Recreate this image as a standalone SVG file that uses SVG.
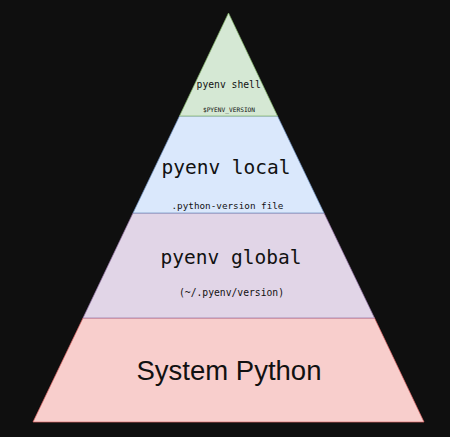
<svg xmlns="http://www.w3.org/2000/svg" width="450" height="437" viewBox="0 0 450 437">
<style>
.mono{font-family:"DejaVu Sans Mono","Liberation Mono",monospace;fill:#111;text-anchor:middle}
.sans{font-family:"Liberation Sans",Arial,sans-serif;fill:#111;text-anchor:middle}
.lay{stroke-width:1;stroke-opacity:0.7}
</style>
<rect width="450" height="437" fill="#0f0f0f"/>
<g id="system-python">
<polygon class="lay" points="83,318 374.5,318 424,422 33,422" fill="#f8cecc" stroke="#e06666"/>
<text class="sans" x="229" y="380" font-size="27.5">System Python</text>
</g>
<g id="pyenv-global">
<polygon class="lay" points="133,213 324,213 374.5,318 83,318" fill="#e1d5e7" stroke="#9673a6"/>
<text class="mono" x="231" y="264" font-size="19.5">pyenv global</text>
<text class="mono" x="231.5" y="296" font-size="9.7">(~/.pyenv/version)</text>
</g>
<g id="pyenv-local">
<polygon class="lay" points="179.5,116 277.5,116 324,213 133,213" fill="#dae8fc" stroke="#6c8ebf"/>
<text class="mono" x="226" y="174" font-size="19.5">pyenv local</text>
<text class="mono" x="227.5" y="209" font-size="9.3">.python-version file</text>
</g>
<g id="pyenv-shell">
<polygon class="lay" points="228.5,13 277.5,116 179.5,116" fill="#d5e8d4" stroke="#82b366"/>
<text class="mono" x="228.7" y="87.5" font-size="9.7">pyenv shell</text>
<text class="mono" x="229" y="111.5" font-size="6.2">$PYENV_VERSION</text>
</g>
</svg>
